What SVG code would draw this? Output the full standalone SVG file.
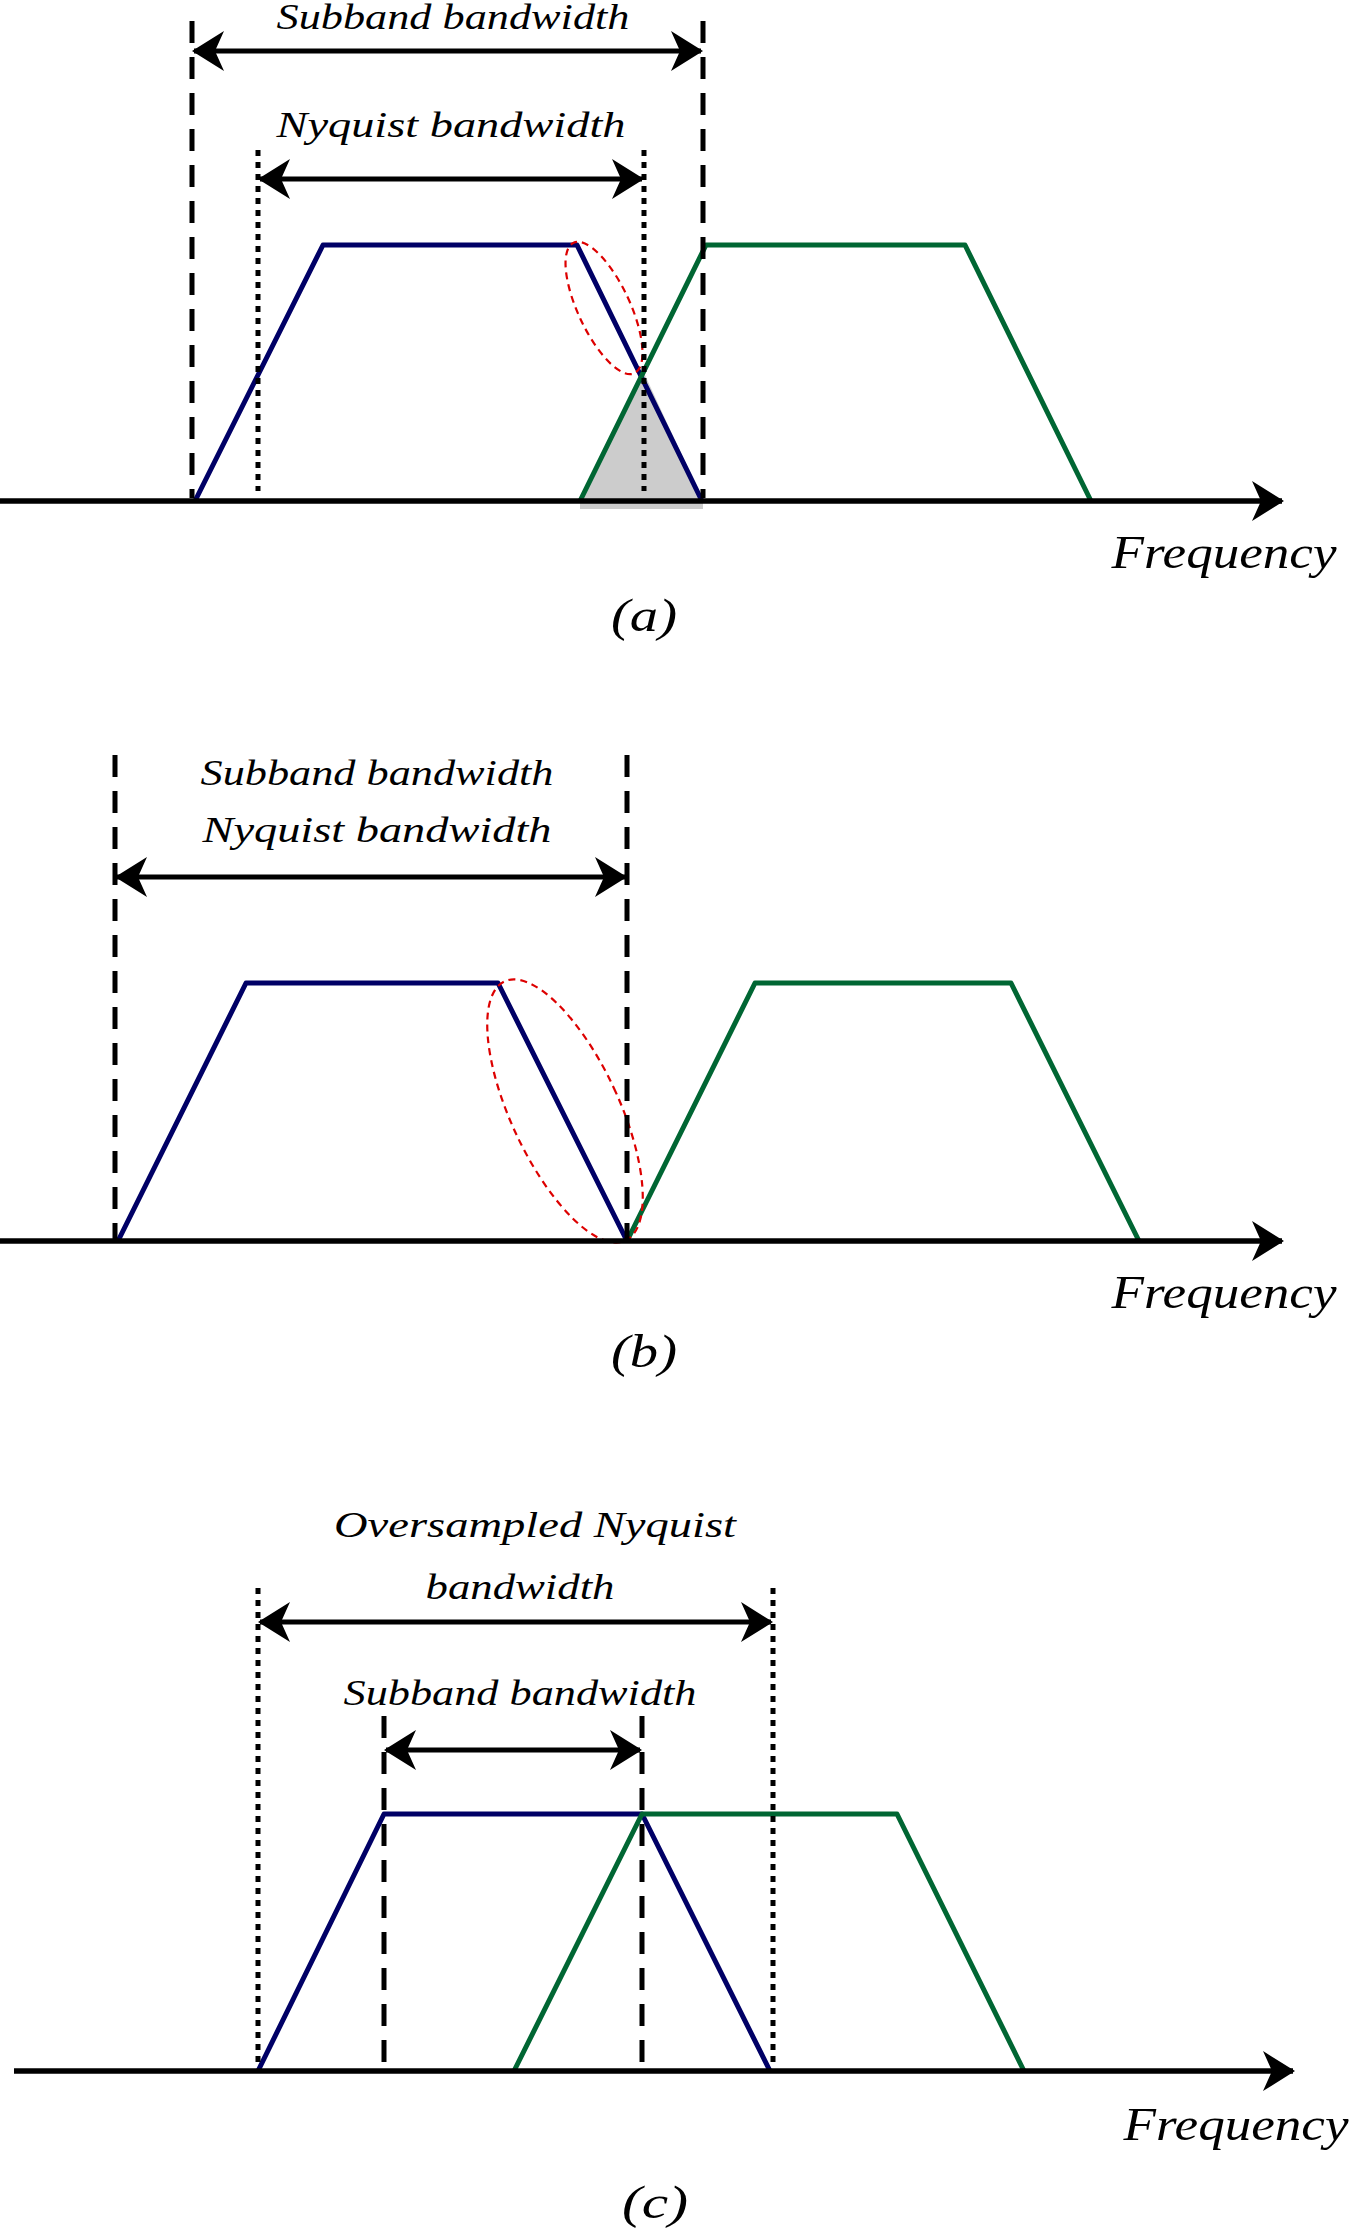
<svg xmlns="http://www.w3.org/2000/svg" width="1350" height="2234" viewBox="0 0 1350 2234">
<style>
.ax{stroke:#000;stroke-width:5.5;fill:none}
.dash{stroke:#000;stroke-width:5;stroke-dasharray:22,14;fill:none}
.dot{stroke:#000;stroke-width:5;stroke-dasharray:6,6;fill:none}
.arr{stroke:#000;stroke-width:5;fill:none}
.blue{stroke:#000066;stroke-width:5;fill:none;stroke-linejoin:round}
.green{stroke:#006633;stroke-width:5;fill:none;stroke-linejoin:round}
.red{stroke:#dd0000;stroke-width:2.2;stroke-dasharray:7,5;fill:none}
text{font-family:"Liberation Serif","DejaVu Serif",serif;font-style:italic;fill:#000;text-anchor:middle}
.lbl{font-size:36px}
.big{font-size:46px}
</style>
<defs>
<marker id="ah" markerUnits="userSpaceOnUse" markerWidth="44" markerHeight="44" refX="30" refY="20" orient="auto-start-reverse" viewBox="0 0 44 40">
<path d="M0,0 L32,20 L0,40 L9,20 Z" fill="#000"/>
</marker>
</defs>
<g id="panel-a">
<g id="a-curves">
<polygon points="580,501 644,373 703,501 703,509 580,509" fill="#cccccc"/>
<polyline class="blue" points="195,501 323,245 577,245 702,501"/>
<polyline class="green" points="580,501 706,245 965,245 1091,501"/>
<ellipse class="red" cx="604" cy="308" rx="26" ry="72" transform="rotate(-25 604 308)"/>
</g>
<g id="a-guides">
<line class="dash" x1="192" y1="21" x2="192" y2="498"/>
<line class="dash" x1="703" y1="21" x2="703" y2="498"/>
<line class="dot" x1="258" y1="150" x2="258" y2="491"/>
<line class="dot" x1="644" y1="150" x2="644" y2="491"/>
</g>
<g id="a-connectors">
<line class="arr" x1="194" y1="51" x2="701" y2="51" marker-start="url(#ah)" marker-end="url(#ah)"/>
<line class="arr" x1="260" y1="179" x2="642" y2="179" marker-start="url(#ah)" marker-end="url(#ah)"/>
<line class="ax" x1="0" y1="501" x2="1282" y2="501" marker-end="url(#ah)"/>
</g>
<text class="lbl" x="453" y="29" textLength="353" lengthAdjust="spacingAndGlyphs">Subband bandwidth</text>
<text class="lbl" x="451" y="137" textLength="349" lengthAdjust="spacingAndGlyphs">Nyquist bandwidth</text>
<text class="big" x="1224" y="568" textLength="225" lengthAdjust="spacingAndGlyphs">Frequency</text>
<text class="big" x="644" y="631" textLength="66" lengthAdjust="spacingAndGlyphs">(a)</text>
</g>
<g id="panel-b">
<g id="b-curves">
<polyline class="blue" points="118,1241 246,983 498,983 627,1241"/>
<polyline class="green" points="627,1241 755,983 1011,983 1139,1241"/>
<ellipse class="red" cx="565" cy="1111" rx="54" ry="143" transform="rotate(-25 565 1111)"/>
</g>
<g id="b-guides">
<line class="dash" x1="115" y1="755" x2="115" y2="1239"/>
<line class="dash" x1="627" y1="755" x2="627" y2="1239"/>
</g>
<g id="b-connectors">
<line class="arr" x1="117" y1="877" x2="625" y2="877" marker-start="url(#ah)" marker-end="url(#ah)"/>
<line class="ax" x1="0" y1="1241" x2="1282" y2="1241" marker-end="url(#ah)"/>
</g>
<text class="lbl" x="377" y="785" textLength="353" lengthAdjust="spacingAndGlyphs">Subband bandwidth</text>
<text class="lbl" x="377" y="842" textLength="349" lengthAdjust="spacingAndGlyphs">Nyquist bandwidth</text>
<text class="big" x="1224" y="1308" textLength="225" lengthAdjust="spacingAndGlyphs">Frequency</text>
<text class="big" x="644" y="1367" textLength="66" lengthAdjust="spacingAndGlyphs">(b)</text>
</g>
<g id="panel-c">
<g id="c-curves">
<polyline class="blue" points="258,2071 384,1814 642,1814 770,2071"/>
<polyline class="green" points="514,2071 642,1814 897,1814 1024,2071"/>
</g>
<g id="c-guides">
<line class="dot" x1="258" y1="1588" x2="258" y2="2068"/>
<line class="dot" x1="773" y1="1588" x2="773" y2="2068"/>
<line class="dash" x1="384" y1="1716" x2="384" y2="2068"/>
<line class="dash" x1="642" y1="1716" x2="642" y2="2068"/>
</g>
<g id="c-connectors">
<line class="arr" x1="260" y1="1622" x2="771" y2="1622" marker-start="url(#ah)" marker-end="url(#ah)"/>
<line class="arr" x1="386" y1="1750" x2="640" y2="1750" marker-start="url(#ah)" marker-end="url(#ah)"/>
<line class="ax" x1="14" y1="2071" x2="1293" y2="2071" marker-end="url(#ah)"/>
</g>
<text class="lbl" x="535" y="1537" textLength="402" lengthAdjust="spacingAndGlyphs">Oversampled Nyquist</text>
<text class="lbl" x="520" y="1599" textLength="189" lengthAdjust="spacingAndGlyphs">bandwidth</text>
<text class="lbl" x="520" y="1705" textLength="353" lengthAdjust="spacingAndGlyphs">Subband bandwidth</text>
<text class="big" x="1236" y="2140" textLength="225" lengthAdjust="spacingAndGlyphs">Frequency</text>
<text class="big" x="655" y="2218" textLength="66" lengthAdjust="spacingAndGlyphs">(c)</text>
</g>
</svg>
